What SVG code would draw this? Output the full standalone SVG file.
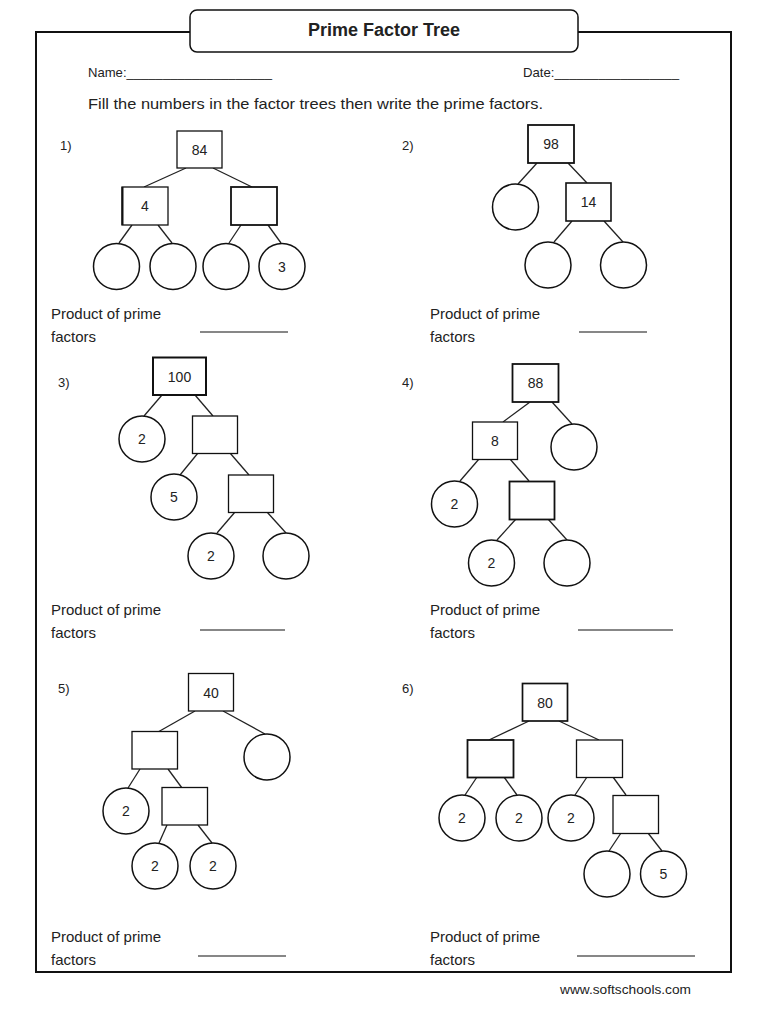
<svg xmlns="http://www.w3.org/2000/svg" width="768" height="1024" viewBox="0 0 768 1024">
<style>
text{font-family:"Liberation Sans",Arial,sans-serif;fill:#222}
.t{font-size:15px}
.n{font-size:14px;text-anchor:middle;dominant-baseline:central}
.q{font-size:13px}
.b{fill:#fff;stroke:#111;stroke-width:1.3}
.c{fill:#fff;stroke:#111;stroke-width:1.5}
.k{stroke:#111;stroke-width:2.2}
#connectors line{stroke:#222;stroke-width:1.3}
.u{stroke:#111;stroke-width:1.2}
</style>
<rect width="768" height="1024" fill="#fff"/>
<g id="frame" fill="none" stroke="#111" stroke-width="2">
<path d="M190 32H36V972H731V32H578"/>
</g>
<g id="title">
<rect x="190" y="10" width="388" height="42" rx="7" fill="#fff" stroke="#111" stroke-width="1.5"/>
<text x="384" y="36" text-anchor="middle" style="font-size:18px;font-weight:bold" fill="#111">Prime Factor Tree</text>
</g>
<g id="header">
<text x="88" y="77" style="font-size:13px" textLength="184" lengthAdjust="spacingAndGlyphs">Name:____________________</text>
<text x="523" y="77" style="font-size:13px" textLength="156" lengthAdjust="spacingAndGlyphs">Date:_________________</text>
<text x="88" y="109" style="font-size:14.5px" textLength="455" lengthAdjust="spacingAndGlyphs">Fill the numbers in the factor trees then write the prime factors.</text>
</g>
<g id="connectors">
<line x1="186" y1="168" x2="144" y2="187"/><line x1="213" y1="168" x2="252" y2="187"/>
<line x1="132" y1="225" x2="119" y2="243"/><line x1="158" y1="225" x2="172" y2="243"/>
<line x1="241" y1="225" x2="229" y2="243"/><line x1="268" y1="225" x2="281" y2="243"/>
<line x1="537" y1="163" x2="518" y2="184"/><line x1="568" y1="163" x2="587" y2="183"/>
<line x1="572" y1="221" x2="554" y2="242"/><line x1="604" y1="221" x2="623" y2="242"/>
<line x1="162" y1="395" x2="144" y2="416"/><line x1="195" y1="395" x2="213" y2="416"/>
<line x1="198" y1="453" x2="180" y2="475"/><line x1="230" y1="453" x2="249" y2="475"/>
<line x1="235" y1="512" x2="217" y2="533"/><line x1="267" y1="512" x2="286" y2="533"/>
<line x1="530" y1="402" x2="503" y2="422"/><line x1="552" y1="402" x2="572" y2="424"/>
<line x1="479" y1="459" x2="460" y2="481"/><line x1="510" y1="459" x2="529" y2="481"/>
<line x1="516" y1="519" x2="497" y2="540"/><line x1="548" y1="519" x2="567" y2="540"/>
<line x1="195" y1="711" x2="158" y2="732"/><line x1="223" y1="711" x2="265" y2="734"/>
<line x1="140" y1="769" x2="128" y2="788"/><line x1="168" y1="769" x2="182" y2="788"/>
<line x1="167" y1="825" x2="159" y2="843"/><line x1="198" y1="825" x2="212" y2="843"/>
<line x1="529" y1="721" x2="489" y2="740"/><line x1="559" y1="721" x2="599" y2="740"/>
<line x1="477" y1="777" x2="465" y2="795"/><line x1="504" y1="777" x2="517" y2="795"/>
<line x1="587" y1="777" x2="575" y2="795"/><line x1="613" y1="777" x2="626" y2="795"/>
<line x1="621" y1="833" x2="609" y2="851"/><line x1="648" y1="833" x2="662" y2="851"/>
</g>
<g id="p1">
<text class="q" x="60" y="150">1)</text>
<g id="p1-84"><rect class="b" x="177" y="131" width="45" height="37"/><text class="n" x="199.5" y="150">84</text></g>
<g id="p1-4"><rect class="b k" x="122" y="187" width="46" height="38" style="stroke-width:1.3"/><line class="u" x1="122.5" y1="187" x2="122.5" y2="225" style="stroke-width:2"/><text class="n" x="145" y="206">4</text></g>
<g id="p1-b"><rect class="b" x="231" y="187" width="46" height="38" style="stroke-width:1.8"/></g>
<g id="p1-c1"><circle class="c" cx="116.5" cy="266.5" r="23"/></g>
<g id="p1-c2"><circle class="c" cx="173" cy="266.5" r="23"/></g>
<g id="p1-c3"><circle class="c" cx="226" cy="266.5" r="23"/></g>
<g id="p1-c4"><circle class="c" cx="282" cy="266.5" r="23"/><text class="n" x="282" y="266.5">3</text></g>
<text class="t" x="51" y="319">Product of prime</text>
<text class="t" x="51" y="342">factors</text>
<line class="u" x1="200" y1="332" x2="288" y2="332"/>
</g>
<g id="p2">
<text class="q" x="402" y="150">2)</text>
<g id="p2-98"><rect class="b" x="528" y="125" width="46" height="38" style="stroke-width:1.8"/><text class="n" x="551" y="144">98</text></g>
<g id="p2-c1"><circle class="c" cx="515.5" cy="207" r="23"/></g>
<g id="p2-14"><rect class="b" x="566" y="183" width="45" height="38" style="stroke-width:1.6"/><text class="n" x="588.5" y="202">14</text></g>
<g id="p2-c2"><circle class="c" cx="548" cy="265" r="23"/></g>
<g id="p2-c3"><circle class="c" cx="623.5" cy="265" r="23"/></g>
<text class="t" x="430" y="319">Product of prime</text>
<text class="t" x="430" y="342">factors</text>
<line class="u" x1="579" y1="332" x2="647" y2="332"/>
</g>
<g id="p3">
<text class="q" x="58" y="387">3)</text>
<g id="p3-100"><rect class="b" x="153" y="357.5" width="53" height="37.5" style="stroke-width:2"/><text class="n" x="179.5" y="376.5">100</text></g>
<g id="p3-c1"><circle class="c" cx="142" cy="439" r="23"/><text class="n" x="142" y="439">2</text></g>
<g id="p3-b1"><rect class="b" x="192.5" y="416" width="45" height="37.5"/></g>
<g id="p3-c2"><circle class="c" cx="174" cy="497" r="23"/><text class="n" x="174" y="497">5</text></g>
<g id="p3-b2"><rect class="b" x="228.5" y="475" width="45" height="37.5"/></g>
<g id="p3-c3"><circle class="c" cx="211" cy="556" r="23"/><text class="n" x="211" y="556">2</text></g>
<g id="p3-c4"><circle class="c" cx="286" cy="556" r="23"/></g>
<text class="t" x="51" y="615">Product of prime</text>
<text class="t" x="51" y="638">factors</text>
<line class="u" x1="200" y1="630" x2="285" y2="630"/>
</g>
<g id="p4">
<text class="q" x="402" y="387">4)</text>
<g id="p4-88"><rect class="b" x="512.5" y="364" width="46" height="38" style="stroke-width:1.8"/><text class="n" x="535.5" y="383">88</text></g>
<g id="p4-8"><rect class="b" x="472.5" y="422" width="45" height="37.5"/><text class="n" x="495" y="441">8</text></g>
<g id="p4-c1"><circle class="c" cx="574" cy="447" r="23"/></g>
<g id="p4-c2"><circle class="c" cx="454.5" cy="504" r="23"/><text class="n" x="454.5" y="504">2</text></g>
<g id="p4-b"><rect class="b" x="509.5" y="481.5" width="45" height="38" style="stroke-width:1.8"/></g>
<g id="p4-c3"><circle class="c" cx="491.5" cy="563" r="23"/><text class="n" x="491.5" y="563">2</text></g>
<g id="p4-c4"><circle class="c" cx="567" cy="563" r="23"/></g>
<text class="t" x="430" y="615">Product of prime</text>
<text class="t" x="430" y="638">factors</text>
<line class="u" x1="578" y1="630" x2="673" y2="630"/>
</g>
<g id="p5">
<text class="q" x="58" y="693">5)</text>
<g id="p5-40"><rect class="b" x="188.5" y="673.5" width="45" height="37.5"/><text class="n" x="211" y="692.5">40</text></g>
<g id="p5-b1"><rect class="b" x="132" y="731.5" width="45.5" height="37.5"/></g>
<g id="p5-c1"><circle class="c" cx="267" cy="757" r="23"/></g>
<g id="p5-c2"><circle class="c" cx="126" cy="811" r="23"/><text class="n" x="126" y="811">2</text></g>
<g id="p5-b2"><rect class="b" x="162" y="787.5" width="45.5" height="37.5"/></g>
<g id="p5-c3"><circle class="c" cx="155" cy="866" r="23"/><text class="n" x="155" y="866">2</text></g>
<g id="p5-c4"><circle class="c" cx="213" cy="866" r="23"/><text class="n" x="213" y="866">2</text></g>
<text class="t" x="51" y="942">Product of prime</text>
<text class="t" x="51" y="965">factors</text>
<line class="u" x1="198" y1="956" x2="286" y2="956"/>
</g>
<g id="p6">
<text class="q" x="402" y="693">6)</text>
<g id="p6-80"><rect class="b" x="522.5" y="683.5" width="45" height="37.5" style="stroke-width:1.7"/><text class="n" x="545" y="702.5">80</text></g>
<g id="p6-b1"><rect class="b" x="467.5" y="740" width="46" height="37.5" style="stroke-width:1.8"/></g>
<g id="p6-b2"><rect class="b" x="576.5" y="740" width="46" height="37.5"/></g>
<g id="p6-c1"><circle class="c" cx="462" cy="818" r="23"/><text class="n" x="462" y="818">2</text></g>
<g id="p6-c2"><circle class="c" cx="519" cy="818" r="23"/><text class="n" x="519" y="818">2</text></g>
<g id="p6-c3"><circle class="c" cx="571" cy="818" r="23"/><text class="n" x="571" y="818">2</text></g>
<g id="p6-b3"><rect class="b" x="613" y="795.5" width="45.5" height="38"/></g>
<g id="p6-c4"><circle class="c" cx="607" cy="874" r="23"/></g>
<g id="p6-c5"><circle class="c" cx="663.5" cy="874" r="23"/><text class="n" x="663.5" y="874">5</text></g>
<text class="t" x="430" y="942">Product of prime</text>
<text class="t" x="430" y="965">factors</text>
<line class="u" x1="577" y1="956" x2="695" y2="956"/>
</g>
<text x="560" y="994" style="font-size:12px" fill="#333" textLength="131" lengthAdjust="spacingAndGlyphs">www.softschools.com</text>
</svg>
